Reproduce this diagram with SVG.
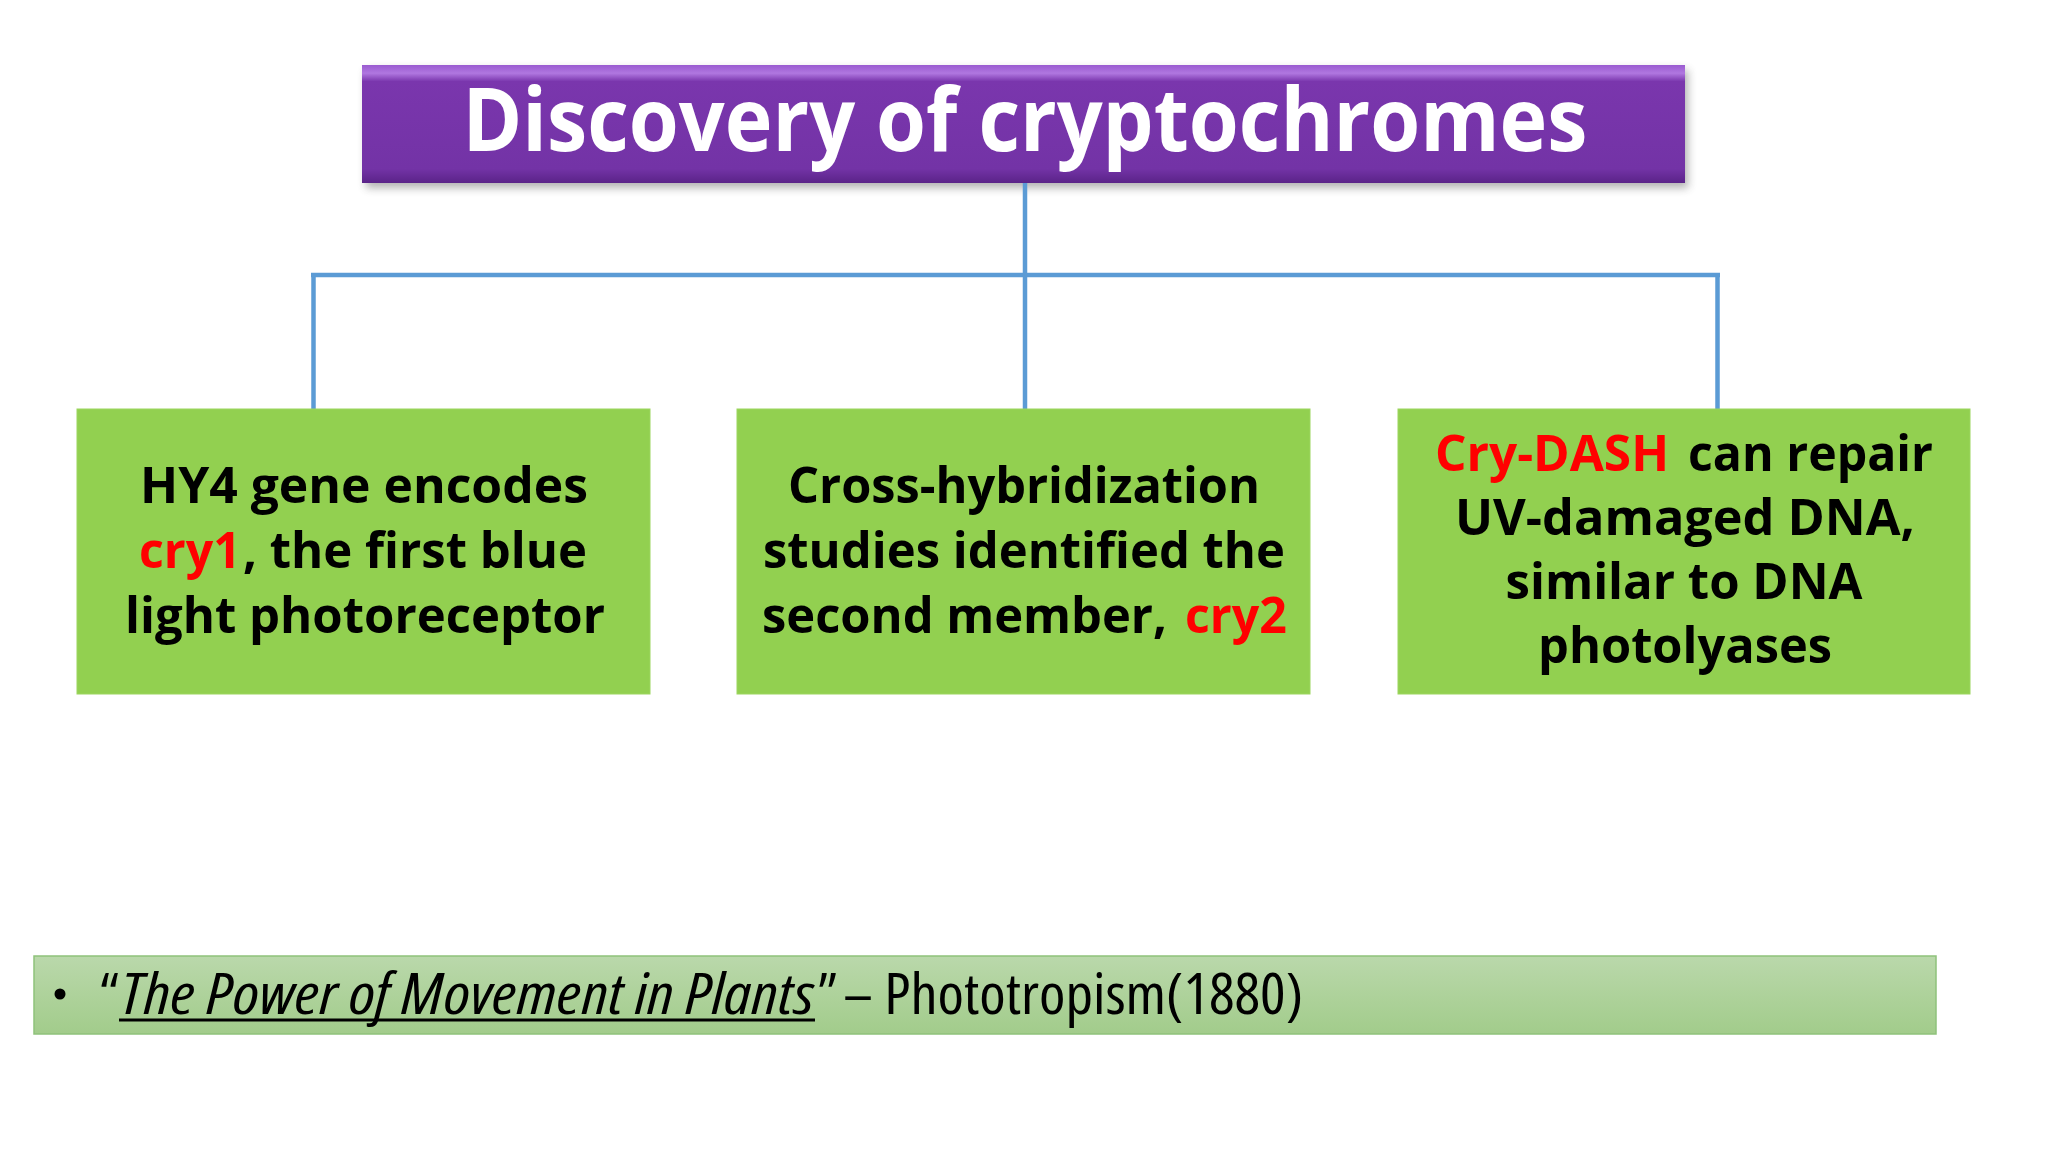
<svg xmlns="http://www.w3.org/2000/svg" width="2048" height="1152" viewBox="0 0 2048 1152">
  <defs>
    <linearGradient id="titleGrad" x1="0" y1="0" x2="0" y2="1">
      <stop offset="0" stop-color="#9a5bd0"/>
      <stop offset="0.07" stop-color="#b077e0"/>
      <stop offset="0.14" stop-color="#7a36ad"/>
      <stop offset="0.88" stop-color="#7333a6"/>
      <stop offset="1" stop-color="#5a2388"/>
    </linearGradient>
    <linearGradient id="barGrad" x1="0" y1="0" x2="0" y2="1">
      <stop offset="0" stop-color="#bad8ab"/>
      <stop offset="1" stop-color="#a2cc8b"/>
    </linearGradient>
    <filter id="shadow" x="-5%" y="-20%" width="110%" height="150%">
      <feGaussianBlur stdDeviation="4"/>
    </filter>
    <style>
      .box { fill: #92d050; stroke: #9cd65e; stroke-width: 1; }
      .btxt { font-family: "Open Sans", "Liberation Sans", sans-serif; font-weight: bold; font-size: 50px; fill: #000000; text-anchor: middle; }
      .st { text-anchor: start; }
      .red { fill: #ff0000; }
      .conn { stroke: #5b9bd5; stroke-width: 4.5; fill: none; }
      .note { font-family: "Open Sans", "Liberation Sans", sans-serif; font-size: 56px; fill: #000000; font-stretch: condensed; }
    </style>
  </defs>
  <rect width="2048" height="1152" fill="#ffffff"/>

  <g id="title">
    <rect x="366" y="70" width="1322" height="118" fill="#555" opacity="0.45" filter="url(#shadow)"/>
    <rect x="362" y="65" width="1323" height="118" fill="url(#titleGrad)"/>
    <text x="1025" y="151" text-anchor="middle" font-family="'Open Sans', 'Liberation Sans', sans-serif" font-weight="bold" font-size="87" fill="#ffffff" textLength="1125" lengthAdjust="spacingAndGlyphs">Discovery of cryptochromes</text>
  </g>

  <g id="connectors">
    <line class="conn" x1="1025" y1="183" x2="1025" y2="409"/>
    <line class="conn" x1="311" y1="275" x2="1720" y2="275"/>
    <line class="conn" x1="313.5" y1="275" x2="313.5" y2="409"/>
    <line class="conn" x1="1717.5" y1="275" x2="1717.5" y2="409"/>
  </g>

  <g id="node-hy4">
    <rect class="box" x="77" y="409" width="573" height="285"/>
    <text class="btxt" x="364" y="503" textLength="448" lengthAdjust="spacingAndGlyphs">HY4 gene encodes</text>
    <text class="btxt st red" x="139" y="568" textLength="102" lengthAdjust="spacingAndGlyphs">cry1</text>
    <text class="btxt st" x="243" y="568" textLength="344" lengthAdjust="spacingAndGlyphs">, the first blue</text>
    <text class="btxt" x="365" y="633" textLength="480" lengthAdjust="spacingAndGlyphs">light photoreceptor</text>
  </g>

  <g id="node-cross">
    <rect class="box" x="737" y="409" width="573" height="285"/>
    <text class="btxt" x="1024" y="503" textLength="472" lengthAdjust="spacingAndGlyphs">Cross-hybridization</text>
    <text class="btxt" x="1024" y="568" textLength="522" lengthAdjust="spacingAndGlyphs">studies identified the</text>
    <text class="btxt st" x="762" y="633" textLength="405" lengthAdjust="spacingAndGlyphs">second member,</text>
    <text class="btxt st red" x="1185" y="633" textLength="102" lengthAdjust="spacingAndGlyphs">cry2</text>
  </g>

  <g id="node-crydash">
    <rect class="box" x="1398" y="409" width="572" height="285"/>
    <text class="btxt st red" x="1435" y="471" textLength="234" lengthAdjust="spacingAndGlyphs">Cry-DASH</text>
    <text class="btxt st" x="1688" y="471" textLength="245" lengthAdjust="spacingAndGlyphs">can repair</text>
    <text class="btxt" x="1685" y="535" textLength="460" lengthAdjust="spacingAndGlyphs">UV-damaged DNA,</text>
    <text class="btxt" x="1684" y="599" textLength="357" lengthAdjust="spacingAndGlyphs">similar to DNA</text>
    <text class="btxt" x="1685" y="663" textLength="294" lengthAdjust="spacingAndGlyphs">photolyases</text>
  </g>

  <g id="note">
    <rect x="34" y="956" width="1902" height="78" fill="url(#barGrad)" stroke="#8fc27b" stroke-width="1.5"/>
    <circle cx="60" cy="994" r="5.5" fill="#000000"/>
    <text class="note" x="100" y="1014">“<tspan font-style="italic" x="121" textLength="693" lengthAdjust="spacingAndGlyphs">The Power of Movement in Plants</tspan><tspan x="818">”</tspan><tspan x="843" textLength="460" lengthAdjust="spacingAndGlyphs">– Phototropism(1880)</tspan></text>
    <line x1="119" y1="1020" x2="815" y2="1020" stroke="#000000" stroke-width="3"/>
  </g>
</svg>
